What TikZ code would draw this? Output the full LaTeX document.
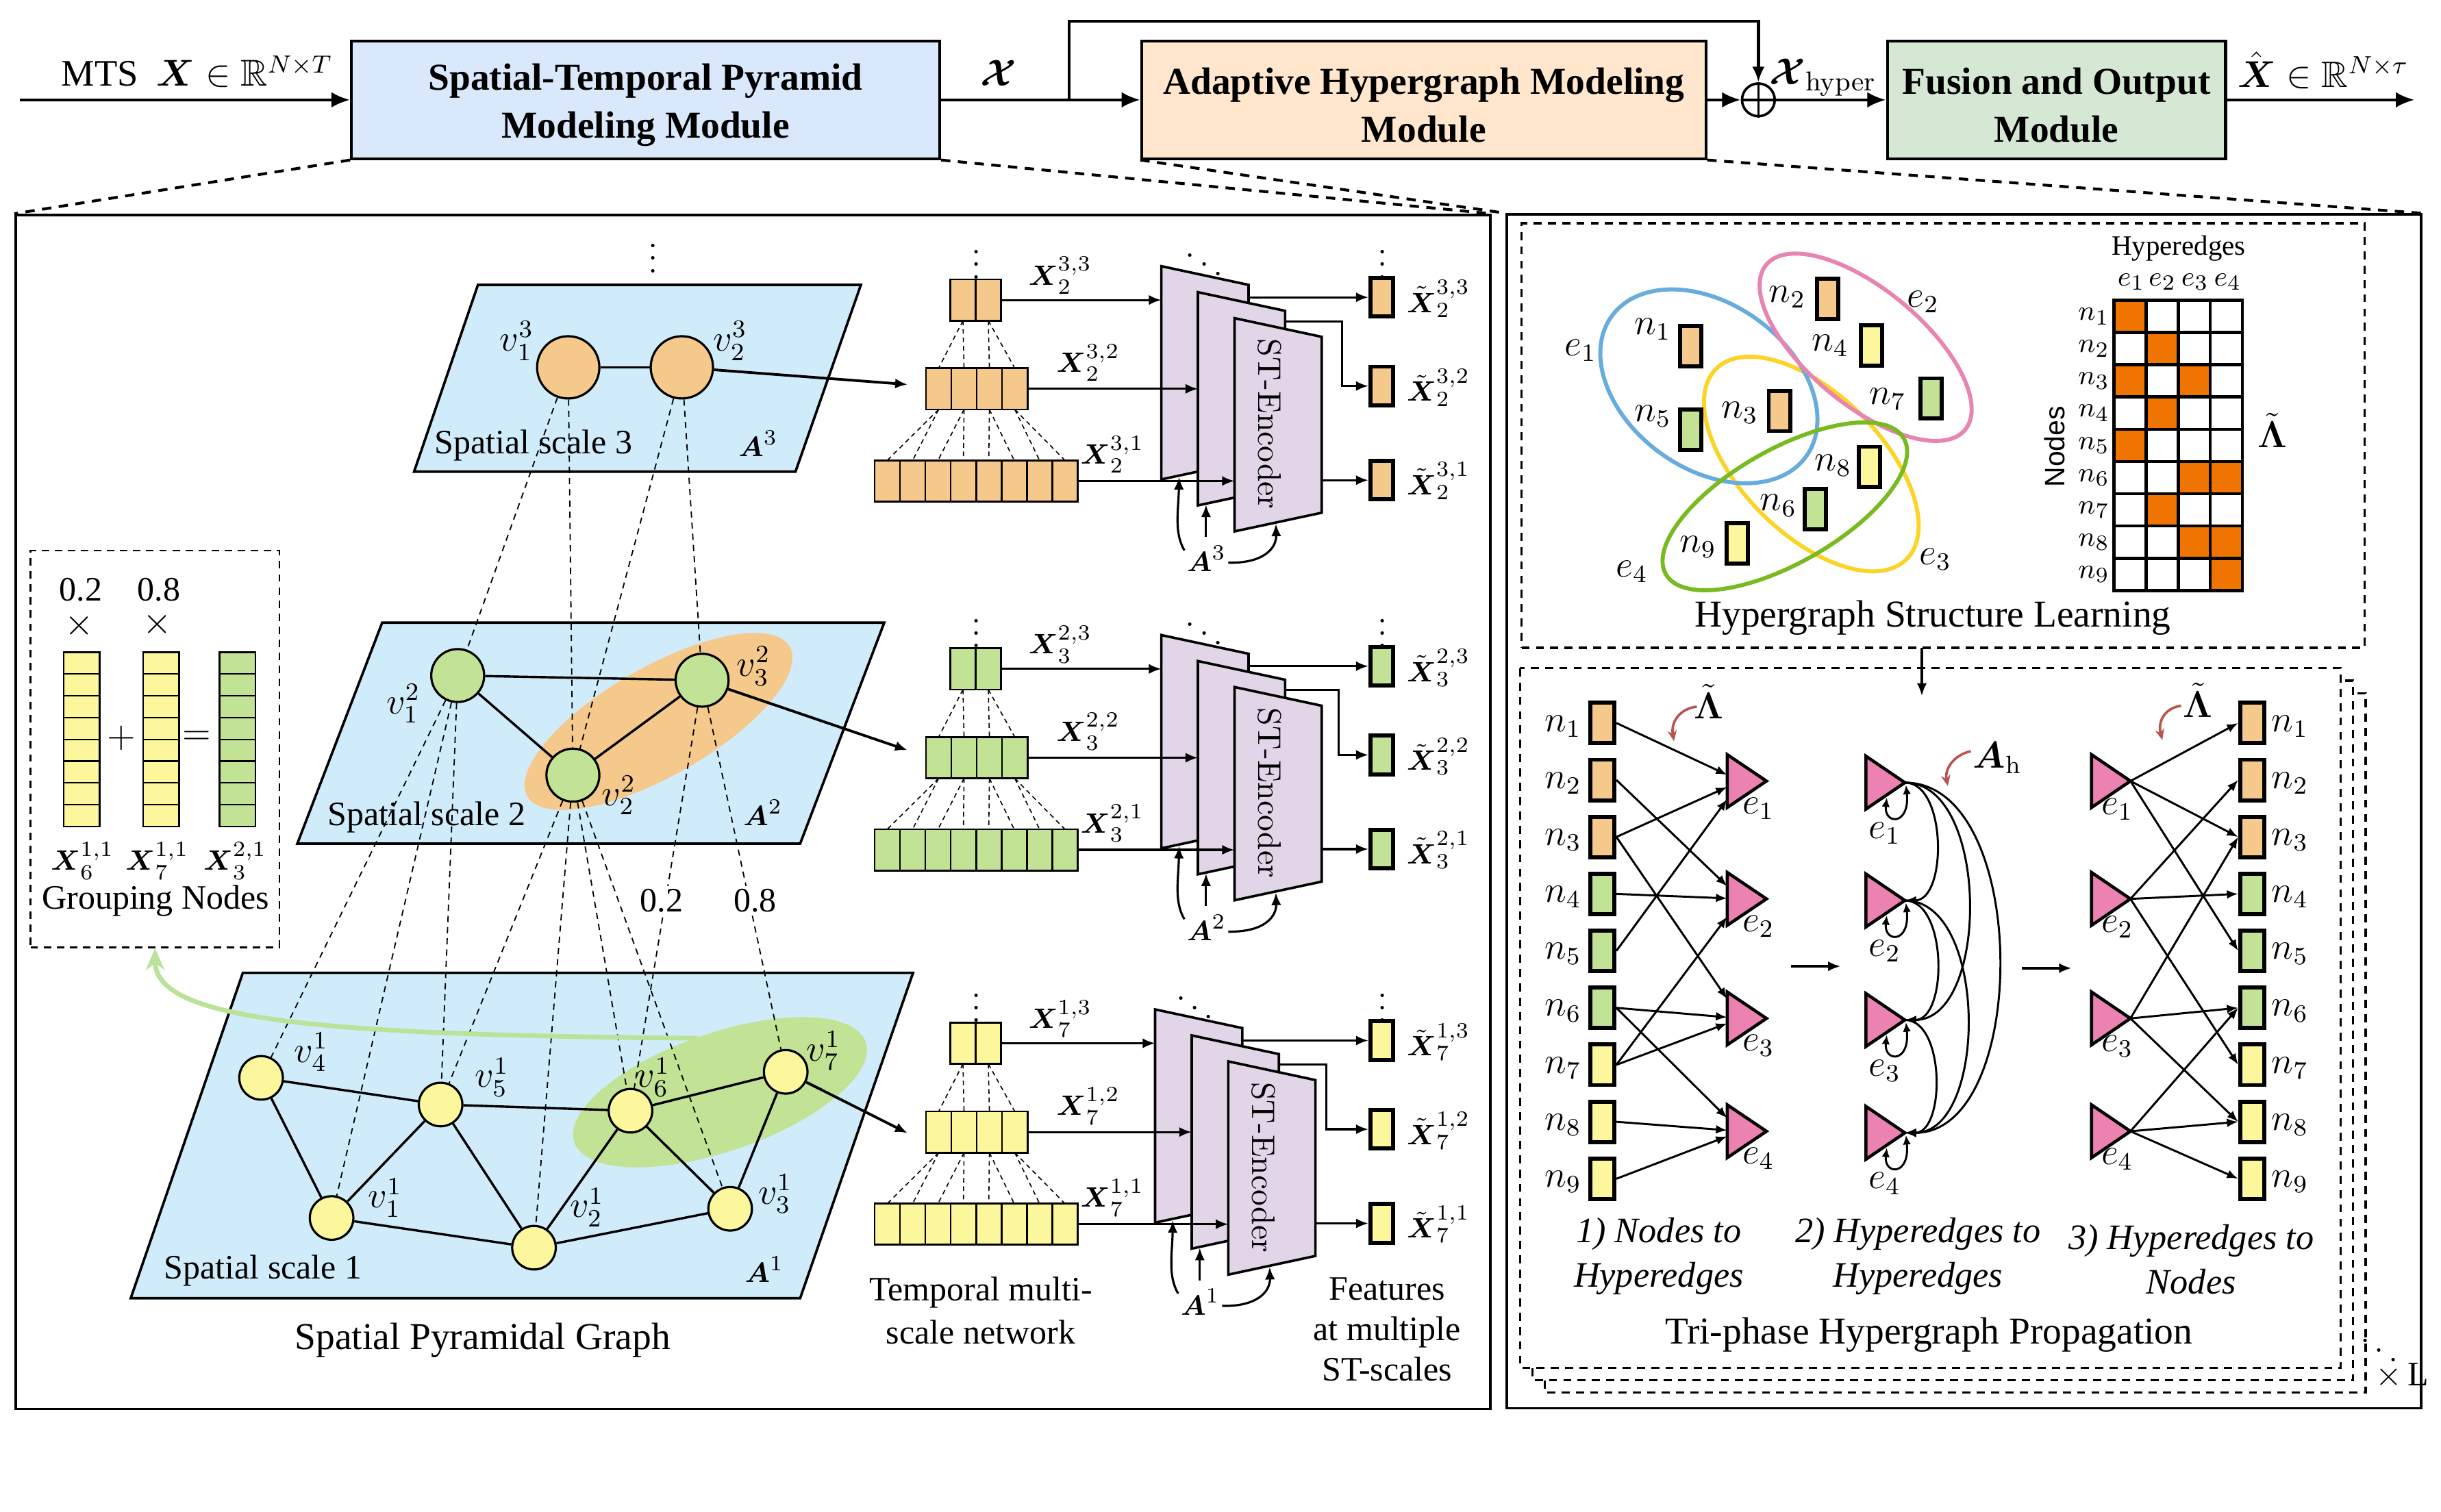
\documentclass[tikz,border=0pt]{standalone}
\usepackage{amsmath}
\usepackage{amssymb}
\usepackage{fontspec}
\newfontfamily\tnr{Liberation Serif}
\newfontfamily\lsans{Liberation Sans}
\usetikzlibrary{arrows.meta,calc}
\definecolor{boxblue}{RGB}{218,232,252}
\definecolor{boxorange}{RGB}{255,230,204}
\definecolor{boxgreen}{RGB}{213,232,212}
\definecolor{planeblue}{RGB}{208,236,250}
\definecolor{norange}{RGB}{245,200,140}
\definecolor{ngreen}{RGB}{194,226,150}
\definecolor{nyellow}{RGB}{252,246,156}
\definecolor{enclav}{RGB}{225,213,231}
\definecolor{tripink}{RGB}{236,130,178}
\definecolor{matorange}{RGB}{240,116,0}
\definecolor{eblue}{RGB}{104,172,222}
\definecolor{epink}{RGB}{232,132,178}
\definecolor{eyellow}{RGB}{252,212,40}
\definecolor{egreen}{RGB}{120,186,32}
\definecolor{garrow}{RGB}{186,226,152}
\definecolor{redarr}{RGB}{184,84,80}

\newcommand{\cellrow}[5]{%
  \node[cellblk, fill=#5, minimum width=#4*8.15pt] (#1) at ({#2+#4*8.15},{#3}) {};
  \foreach \kk in {1,...,7}{\ifnum\kk<#4\relax \draw[cellsep] ({#2+\kk*16.3},{#3-13.25}) -- ({#2+\kk*16.3},{#3+13.25});\fi}%
}
\newcommand{\pyr}[3]{%
  \cellrow{pt#1}{610.4}{192.75+#2}{2}{#3}
  \cellrow{pm#1}{594.8}{249.8+#2}{4}{#3}
  \cellrow{pb#1}{561.8}{309+#2}{8}{#3}
  \foreach \kk in {0,1}{%
    \draw[tdash] ({618.55+16.3*\kk},{206+#2}) -- ({602.95+32.6*\kk},{236.55+#2});
    \draw[tdash] ({618.55+16.3*\kk},{206+#2}) -- ({619.25+32.6*\kk},{236.55+#2});}
  \foreach \kk in {0,...,3}{%
    \draw[tdash] ({602.95+16.3*\kk},{263.05+#2}) -- ({569.95+32.6*\kk},{295.75+#2});
    \draw[tdash] ({602.95+16.3*\kk},{263.05+#2}) -- ({586.25+32.6*\kk},{295.75+#2});}
  \node[mth] at (627,{164+#2}) {$\vdots$};
}
% #1 dx, #2 dy, #3 elbow x, #4 tag, #5 scale, #6 node index, #7 colour
\newcommand{\encset}[7]{%
  \foreach \qq in {0,1,2}{\filldraw[encs] ({746+#1+23.5*\qq},{171+#2+16.7*\qq}) -- ++(56,12) -- ++(0,113) -- ++(-56,12) -- cycle;}
  \node[rotate=-90, font=\normalfont\fontsize{10.5}{12}\selectfont, inner sep=0] at ({815.5+#1},{272.4+#2}) {ST-Encoder};
  \node[outblk, fill=#7] (oa#4) at (887.5,{191+#2}) {};
  \node[outblk, fill=#7] (ob#4) at (887.5,{248+#2}) {};
  \node[outblk, fill=#7] (oc#4) at (887.5,{308.5+#2}) {};
  \coordinate (ia#4) at ({746+#1},{192.75+#2});
  \coordinate (ib#4) at ({769.5+#1},{249.8+#2});
  \coordinate (ic#4) at ({793+#1},{309+#2});
  \draw[arr] (pt#4.east) -- (ia#4);
  \draw[arr] (pm#4.east) -- (ib#4);
  \draw[arr] (pb#4.east) -- (ic#4);
  \coordinate (xa#4) at ({802+#1},{191+#2});
  \coordinate (xb#4) at ({825.5+#1},{206.4+#2});
  \coordinate (xc#4) at ({849+#1},{308.5+#2});
  \draw[arr] (xa#4) -- (oa#4.west);
  \draw[arr] (xb#4) -| ({#3},{248+#2}) -- (ob#4.west);
  \draw[arr] (xc#4) -- (oc#4.west);
  \node[mxs] (A#4) at ({775+#1},{359+#2}) {$\boldsymbol{A}^{#5}$};
  \draw[arr] ({760.8+#1},{353.6+#2}) .. controls ({754+#1},{342+#2}) and ({757+#1},{328+#2}) .. ({757.4+#1},{306.5+#2});
  \draw[arr] ({774.7+#1},{345+#2}) -- ({774.7+#1},{324.2+#2});
  \draw[arr] ({789+#1},{361.5+#2}) .. controls ({812+#1},{362+#2}) and ({820+#1},{352+#2}) .. ({819.6+#1},{336.5+#2});
  \node[mth] at ({773.5+#1*1.5},{164+#2}) {$\ddots$};
  \node[mth] at (888,{164+#2}) {$\vdots$};
  \node[mxs] at (681,{177+#2}) {$\boldsymbol{X}_{#6}^{#5,3}$};
  \node[mxs] at (699,{233+#2}) {$\boldsymbol{X}_{#6}^{#5,2}$};
  \node[mxs] at (714.5,{292+#2}) {$\boldsymbol{X}_{#6}^{#5,1}$};
  \node[mxs] at (924,{192+#2}) {$\tilde{\boldsymbol{X}}_{#6}^{#5,3}$};
  \node[mxs] at (924,{249+#2}) {$\tilde{\boldsymbol{X}}_{#6}^{#5,2}$};
  \node[mxs] at (924,{309+#2}) {$\tilde{\boldsymbol{X}}_{#6}^{#5,1}$};
}

\begin{document}
\begin{tikzpicture}[x=0.5pt,y=-0.5pt,
  every node/.style={inner sep=1pt, font=\tnr\fontsize{11}{13}\selectfont},
  topbox/.style={draw, line width=0.9pt, minimum height=37.75pt, inner sep=0},
  toptext/.style={align=center, inner sep=0, font=\tnr\bfseries\fontsize{12.2}{15.4}\selectfont},
  bigarr/.style={line width=1pt, -{Latex[length=6pt,width=5pt]}},
  arr/.style={line width=0.7pt, -{Latex[length=4pt,width=3.2pt]}},
  harr/.style={line width=0.65pt, -{Latex[length=3.6pt,width=2.8pt]}},
  panelbox/.style={draw, line width=0.8pt, inner sep=0},
  zoomdash/.style={line width=0.9pt, dash pattern=on 3pt off 2.4pt},
  plane/.style={draw, line width=0.8pt, fill=planeblue, line join=miter},
  gnode/.style={circle, draw, line width=0.7pt, inner sep=0},
  gedge/.style={line width=0.75pt},
  dlink/.style={line width=0.4pt, dash pattern=on 2pt off 1.6pt},
  tdash/.style={line width=0.35pt, dash pattern=on 1.5pt off 1.2pt},
  cellblk/.style={draw, line width=0.6pt, minimum height=13.25pt, inner sep=0},
  cellsep/.style={line width=0.6pt},
  encs/.style={draw, line width=0.8pt, fill=enclav, line join=miter},
  outblk/.style={draw, line width=1.3pt, minimum width=7.2pt, minimum height=12.4pt, inner sep=0},
  hnode/.style={draw, line width=1.3pt, minimum width=6.85pt, minimum height=12.95pt, inner sep=0},
  tnode/.style={draw, line width=1.3pt, minimum width=7.7pt, minimum height=13pt, inner sep=0},
  tri/.style={draw, line width=1pt, fill=tripink, line join=miter},
  tdbox/.style={line width=0.7pt, dash pattern=on 2.6pt off 2pt},
  mgrid/.style={line width=1pt, line cap=rect},
  redc/.style={line width=0.8pt, draw=redarr, -{Stealth[length=3.5pt,width=3pt]}, color=redarr},
  mth/.style={font=\fontsize{11.5}{13}\selectfont},
  mxs/.style={font=\fontsize{9.5}{11}\selectfont},
  m12/.style={font=\fontsize{12}{14}\selectfont},
  t12/.style={font=\tnr\fontsize{12.2}{14.6}\selectfont},
  t9/.style={font=\tnr\fontsize{9}{11}\selectfont},
  ital/.style={font=\tnr\itshape\fontsize{11.5}{14.2}\selectfont, align=center}
]
\useasboundingbox (0,0) rectangle (1568,971);

%================ TOP ROW =================
\node[topbox, fill=boxblue, minimum width=188.9pt] (m1) at (414.7,64.15) {};
\node[topbox, fill=boxorange, minimum width=181.2pt] (m2) at (914.6,64.15) {};
\node[topbox, fill=boxgreen, minimum width=108.6pt] (m3) at (1321,64.15) {};
\node[toptext, yshift=-1.6pt] (m1t) at (m1) {Spatial-Temporal Pyramid\\Modeling Module};
\node[toptext, yshift=-1.6pt] (m2t) at (m2) {Adaptive Hypergraph Modeling\\Module};
\node[toptext, yshift=-1.6pt] (m3t) at (m3) {Fusion and Output\\Module};
\node[circle, draw, line width=0.8pt, minimum size=10.5pt, inner sep=0] (op) at (1129.5,64.15) {};
\draw[line width=0.8pt] (op.north) -- (op.south) (op.west) -- (op.east);
\coordinate (inL) at (12.6,64.15);
\coordinate (outR) at (1551,64.15);
\coordinate (fb) at (686.8,64.15);
\draw[bigarr] (inL) -- (m1.west);
\draw[bigarr] (m1.east) -- (m2.west);
\draw[bigarr] (m2.east) -- (op.west);
\draw[bigarr] (op.east) -- (m3.west);
\draw[bigarr] (m3.east) -- (outR);
\draw[line width=1pt, -{Latex[length=5pt,width=4pt]}] (fb) -- ++(0,-50.6) -| (op.north);
\node[anchor=west, font=\tnr\fontsize{12}{14}\selectfont, inner sep=0] at (39,46) {MTS\ \ $\boldsymbol{X}\in\mathbb{R}^{N\times T}$};
\node[font=\fontsize{12.5}{14}\selectfont] at (641.5,47) {$\boldsymbol{\mathcal{X}}$};
\node[font=\fontsize{12.5}{14}\selectfont] at (1171,50) {$\boldsymbol{\mathcal{X}}_{\text{hyper}}$};
\node[anchor=west, font=\fontsize{11.8}{14}\selectfont, inner sep=0] at (1437,45) {$\hat{\boldsymbol{X}}\in\mathbb{R}^{N\times\tau}$};

%================ PANELS =================
\node[panelbox, minimum width=473.6pt, minimum height=383.55pt] (lp) at (483.6,521.65) {};
\node[panelbox, minimum width=293.65pt, minimum height=383.5pt] (rp) at (1261.65,521.3) {};
\draw[zoomdash] (m1.south west) -- (lp.north west);
\draw[zoomdash] (m1.south east) -- (lp.north east);
\draw[zoomdash] (m2.south west) -- (rp.north west);
\draw[zoomdash] (m2.south east) -- (rp.north east);

%================ SPATIAL PYRAMID =================
\draw[plane] (307,183) -- (553,183) -- (511,303) -- (266,303) -- cycle;
\draw[plane] (245.5,400) -- (568,400) -- (514,542) -- (191,542) -- cycle;
\draw[plane] (156,625) -- (586.5,625) -- (514,834) -- (84,834) -- cycle;
\fill[norange, rotate around={29.7:(423,463.5)}] (423,463.5) ellipse [x radius=97, y radius=35];
\fill[ngreen, rotate around={19:(462.5,701.7)}] (462.5,701.7) ellipse [x radius=99, y radius=38];

\node[mth] at (419.5,160) {$\vdots$};
\node at (342.75,286) {Spatial scale 3};
\node at (274,525) {Spatial scale 2};
\node at (169,816.5) {Spatial scale 1};
\node[mxs] at (487,285) {$\boldsymbol{A}^3$};
\node[mxs] at (490,522) {$\boldsymbol{A}^2$};
\node[mxs] at (491,815.5) {$\boldsymbol{A}^1$};

\node[gnode, fill=norange, minimum size=20pt] (v13) at (365,236) {};
\node[gnode, fill=norange, minimum size=20pt] (v23) at (438,236) {};
\node[gnode, fill=ngreen, minimum size=17pt] (v12) at (294,434) {};
\node[gnode, fill=ngreen, minimum size=17pt] (v22) at (368,498) {};
\node[gnode, fill=ngreen, minimum size=17pt] (v32) at (451,437) {};
\node[gnode, fill=nyellow, minimum size=14pt] (v41) at (167.7,692.5) {};
\node[gnode, fill=nyellow, minimum size=14pt] (v51) at (283,709.6) {};
\node[gnode, fill=nyellow, minimum size=14pt] (v61) at (405,713.6) {};
\node[gnode, fill=nyellow, minimum size=14pt] (v71) at (504.7,688.6) {};
\node[gnode, fill=nyellow, minimum size=14pt] (v11) at (213,782.5) {};
\node[gnode, fill=nyellow, minimum size=14pt] (v21) at (343,801.6) {};
\node[gnode, fill=nyellow, minimum size=14pt] (v31) at (469,776.6) {};

\draw[gedge] (v13) -- (v23);
\draw[gedge] (v12) -- (v32) (v12) -- (v22) (v22) -- (v32);
\draw[gedge] (v41) -- (v51) (v51) -- (v61) (v61) -- (v71) (v41) -- (v11) (v11) -- (v51)
  (v51) -- (v21) (v11) -- (v21) (v21) -- (v61) (v61) -- (v31) (v71) -- (v31) (v21) -- (v31);

\draw[dlink] (v13) -- (v12) (v13) -- (v22) (v23) -- (v22) (v23) -- (v32);
\draw[dlink] (v12) -- (v41) (v12) -- (v11) (v12) -- (v51)
  (v22) -- (v51) (v22) -- (v21) (v22) -- (v61) (v22) -- (v31)
  (v32) -- (v61) (v32) -- (v71);
\node[fill=white, inner sep=1pt] at (425,578.6) {0.2};
\node[fill=white, inner sep=1pt] at (485,578.6) {0.8};

\node[mth] at (332,219) {$v_1^3$};
\node[mth] at (469,219) {$v_2^3$};
\node[mth] at (259,452) {$v_1^2$};
\node[mth] at (484,428) {$v_3^2$};
\node[mth] at (397.5,511) {$v_2^2$};
\node[mth] at (200,676) {$v_4^1$};
\node[mth] at (316,692) {$v_5^1$};
\node[mth] at (419.5,692) {$v_6^1$};
\node[mth] at (529,675) {$v_7^1$};
\node[mth] at (247.5,769.5) {$v_1^1$};
\node[mth] at (377,775.6) {$v_2^1$};
\node[mth] at (498,767) {$v_3^1$};

\coordinate (tg3) at (583,247);
\coordinate (tg2) at (583,482);
\coordinate (tg1) at (583,728);
\draw[arr, line width=0.85pt] (v23) -- (tg3);
\draw[arr, line width=0.85pt] (v32) -- (tg2);
\draw[arr, line width=0.85pt] (v71) -- (tg1);

\node[t12] at (310,861) {Spatial Pyramidal Graph};

% grouping nodes box
\node[draw, line width=0.6pt, dash pattern=on 2.4pt off 1.8pt, minimum width=79.95pt, minimum height=127.45pt, inner sep=0] (grp) at (99.55,481.15) {};
\node at (52,379) {0.2};
\node at (102,379) {0.8};
\node[mth] at (51,402) {$\times$};
\node[mth] at (101,401) {$\times$};
\foreach \rr in {0,...,7}{%
  \draw[line width=0.5pt, fill=nyellow] (41,{419+14*\rr}) rectangle (64,{433+14*\rr});
  \draw[line width=0.5pt, fill=nyellow] (92,{419+14*\rr}) rectangle (115,{433+14*\rr});
  \draw[line width=0.5pt, fill=ngreen] (141,{419+14*\rr}) rectangle (164,{433+14*\rr});}
\node[mth] at (78,474) {$+$};
\node[mth] at (126.5,474) {$=$};
\node[mxs] at (53,553) {$\boldsymbol{X}_6^{1,1}$};
\node[mxs] at (101,553) {$\boldsymbol{X}_7^{1,1}$};
\node[mxs] at (151,553) {$\boldsymbol{X}_3^{2,1}$};
\node at (100,578.6) {Grouping Nodes};
\coordinate (gstart) at (448,667);
\draw[draw=garrow, line width=1.5pt, -{Stealth[length=7pt,width=6pt]}] (gstart) .. controls (200,665) and (100,655) .. (grp.south);

%================ TEMPORAL PYRAMIDS & ENCODERS =================
\pyr{c}{0}{norange}
\pyr{b}{237}{ngreen}
\pyr{a}{477.5}{nyellow}
\encset{0}{0}{862}{c}{3}{2}{norange}
\encset{0}{237}{860}{b}{2}{3}{ngreen}
\encset{-4}{477.5}{852}{a}{1}{7}{nyellow}

\node[align=center, font=\tnr\fontsize{11}{14}\selectfont] at (630,842) {Temporal multi-\\scale network};
\node[align=center, font=\tnr\fontsize{11}{13}\selectfont] at (891,854) {Features\\at multiple\\ST-scales};

%================ HYPERGRAPH STRUCTURE LEARNING =================
\node[draw, tdbox, minimum width=270.8pt, minimum height=136.4pt, inner sep=0] (hsl) at (1248.2,279.8) {};
\draw[line width=1.3pt, draw=eyellow, rotate around={-45:(1163.5,298.1)}] (1163.5,298.1) ellipse [x radius=86.5, y radius=45];
\draw[line width=1.3pt, draw=eblue, rotate around={-35.8:(1097.7,248.2)}] (1097.7,248.2) ellipse [x radius=77, y radius=53];
\draw[line width=1.3pt, draw=epink, rotate around={-39.7:(1198.4,223.1)}] (1198.4,223.1) ellipse [x radius=83, y radius=37];
\draw[line width=1.3pt, draw=egreen, rotate around={29.7:(1146.5,325.3)}] (1146.5,325.3) ellipse [x radius=88, y radius=36.5];

\node[hnode, fill=norange] (h1) at (1086,222.4) {};
\node[hnode, fill=norange] (h2) at (1174,192) {};
\node[hnode, fill=norange] (h3) at (1143,264) {};
\node[hnode, fill=nyellow] (h4) at (1202,222) {};
\node[hnode, fill=ngreen] (h5) at (1086,276) {};
\node[hnode, fill=ngreen] (h6) at (1166,327) {};
\node[hnode, fill=ngreen] (h7) at (1240.5,256) {};
\node[hnode, fill=nyellow] (h8) at (1201,300) {};
\node[hnode, fill=nyellow] (h9) at (1116,349) {};
\node[mth] at (1061.6,211.6) {$n_1$};
\node[mth] at (1148,190.8) {$n_2$};
\node[mth] at (1117.5,265) {$n_3$};
\node[mth] at (1175.5,222.2) {$n_4$};
\node[mth] at (1061.6,267.5) {$n_5$};
\node[mth] at (1142.3,324.8) {$n_6$};
\node[mth] at (1212.5,256.5) {$n_7$};
\node[mth] at (1177.5,298.9) {$n_8$};
\node[mth] at (1090.6,351.5) {$n_9$};
\node[mth] at (1015.3,225) {$e_1$};
\node[mth] at (1235.3,193.9) {$e_2$};
\node[mth] at (1243.2,359.4) {$e_3$};
\node[mth] at (1048.3,367.2) {$e_4$};

% incidence matrix
\foreach \rr/\cc in {1/1,2/2,3/1,3/3,4/2,5/1,6/3,6/4,7/2,8/3,8/4,9/4}{%
  \fill[matorange] ({1358+20.6*(\cc-1)},{192.9+20.72*(\rr-1)}) rectangle ++(20.6,20.72);}
\foreach \rr in {0,...,9}{\draw[mgrid] (1358,{192.9+20.72*\rr}) -- (1440.4,{192.9+20.72*\rr});}
\foreach \cc in {0,...,4}{\draw[mgrid] ({1358+20.6*\cc},192.9) -- ({1358+20.6*\cc},379.4);}
\foreach \rr in {1,...,9}{\node[font=\fontsize{9.5}{11}\selectfont, inner sep=0] at (1345,{192.9+20.72*(\rr-0.5)}) {$n_{\rr}$};}
\foreach \cc/\xx in {1/1369,2/1389,3/1410,4/1431}{\node[font=\fontsize{9.5}{11}\selectfont, inner sep=0] at (\xx,181) {$e_{\cc}$};}
\node[t9] at (1399.5,159.5) {Hyperedges};
\node[rotate=90, font=\lsans\fontsize{9}{11}\selectfont] at (1320,287) {Nodes};
\node[mth] at (1459.6,276.3) {$\tilde{\boldsymbol{\Lambda}}$};
\node[t12] at (1241.5,397) {Hypergraph Structure Learning};

%================ TRI-PHASE PROPAGATION =================
\draw[tdbox, fill=white] (992.4,445.3) rectangle (1519.6,894.7);
\draw[tdbox, fill=white] (984.4,437.3) rectangle (1511.6,886.7);
\draw[tdbox, fill=white] (976.4,429.3) rectangle (1503.6,878.7);
\coordinate (hslout) at (1234.5,416.2);
\coordinate (tpin) at (1234.5,447);
\draw[arr] (hslout) -- (tpin);
\node[mth] at (1528.4,861.6) {$\ddots$};
\node at (1543,884) {$\times$\,L};

\foreach \nn/\cc in {1/norange,2/norange,3/norange,4/ngreen,5/ngreen,6/ngreen,7/nyellow,8/nyellow,9/nyellow}{%
  \node[tnode, fill=\cc] (pa\nn) at (1029.3,{464.5+36.6*(\nn-1)}) {};
  \node[m12] at (1004,{466.5+36.6*(\nn-1)}) {$n_{\nn}$};
  \node[tnode, fill=\cc] (pc\nn) at (1446.7,{464.5+36.6*(\nn-1)}) {};
  \node[m12] at (1471,{466.5+36.6*(\nn-1)}) {$n_{\nn}$};}

\foreach \jj/\yy in {1/501.8,2/577.5,3/654.3,4/726.8}{%
  \coordinate (p1a\jj) at (1109.5,{\yy-17});
  \coordinate (p1b\jj) at (1109.5,{\yy+17});
  \coordinate (p1t\jj) at (1134.7,\yy);
  \coordinate (p1c\jj) at (1118,\yy);
  \filldraw[tri] (p1a\jj) -- (p1t\jj) -- (p1b\jj) -- cycle;
  \node[m12] at (1129.5,{\yy+17.5}) {$e_{\jj}$};
  \coordinate (p2a\jj) at (1198.6,{\yy+1-17});
  \coordinate (p2b\jj) at (1198.6,{\yy+1+17});
  \coordinate (p2t\jj) at (1223.6,{\yy+1});
  \filldraw[tri] (p2a\jj) -- (p2t\jj) -- (p2b\jj) -- cycle;
  \node[m12] at (1210.7,{\yy+33.5}) {$e_{\jj}$};
  \draw[line width=0.65pt, {Latex[length=3pt,width=2.6pt]}-{Latex[length=3pt,width=2.6pt]}]
     (1212,{\yy+1+9.6}) .. controls (1210,{\yy+1+27}) and (1227,{\yy+1+28}) .. (1224.3,{\yy+1+1.5});
  \coordinate (p3a\jj) at (1343.5,{\yy-17});
  \coordinate (p3b\jj) at (1343.5,{\yy+17});
  \coordinate (p3t\jj) at (1368.5,\yy);
  \filldraw[tri] (p3a\jj) -- (p3t\jj) -- (p3b\jj) -- cycle;
  \node[m12] at (1360,{\yy+18}) {$e_{\jj}$};}

\foreach \nn/\ee in {1/1,2/2,3/1,3/3,4/2,5/1,6/3,6/4,7/2,7/3,8/4,9/4}{%
  \draw[harr] (pa\nn.east) -- ($(pa\nn.east)!0.893!(p1c\ee)$);}
\foreach \ee/\nn in {1/1,1/3,1/5,2/2,2/4,2/7,3/3,3/6,3/8,4/6,4/8,4/9}{%
  \draw[harr] (p3t\ee) -- (pc\nn.west);}
\foreach \ss/\tt in {1/2,1/3,1/4,2/3,2/4,3/4}{%
  \draw[harr] (p2t\ss) to[out=0, in=0, looseness=0.92] (p2t\tt);}

\coordinate (ph1) at (1150.4,620.8);
\coordinate (ph1e) at (1182.3,620.8);
\coordinate (ph2) at (1298.9,622);
\coordinate (ph2e) at (1330.7,622);
\draw[arr, line width=0.9pt] (ph1) -- (ph1e);
\draw[arr, line width=0.9pt] (ph2) -- (ph2e);

\node[mth] at (1097.7,450.6) {$\tilde{\boldsymbol{\Lambda}}$};
\node[mth] at (1412,450) {$\tilde{\boldsymbol{\Lambda}}$};
\node[mth] at (1283,486.8) {$\boldsymbol{A}_{\mathrm{h}}$};
\draw[redc] (1090,454) .. controls (1080,455) and (1073,463) .. (1075.3,476.2);
\draw[redc] (1266,482.6) .. controls (1255,485) and (1249,494) .. (1251.2,505);
\draw[redc] (1401,453.4) .. controls (1390,455) and (1386,464) .. (1389,475.4);

\node[ital] at (1065.5,807) {1) Nodes to\\Hyperedges};
\node[ital] at (1232,807) {2) Hyperedges to\\Hyperedges};
\node[ital] at (1407.5,809) {3) Hyperedges to\\Nodes};
\node[t12] at (1239,857.5) {Tri-phase Hypergraph Propagation};
\end{tikzpicture}
\end{document}
